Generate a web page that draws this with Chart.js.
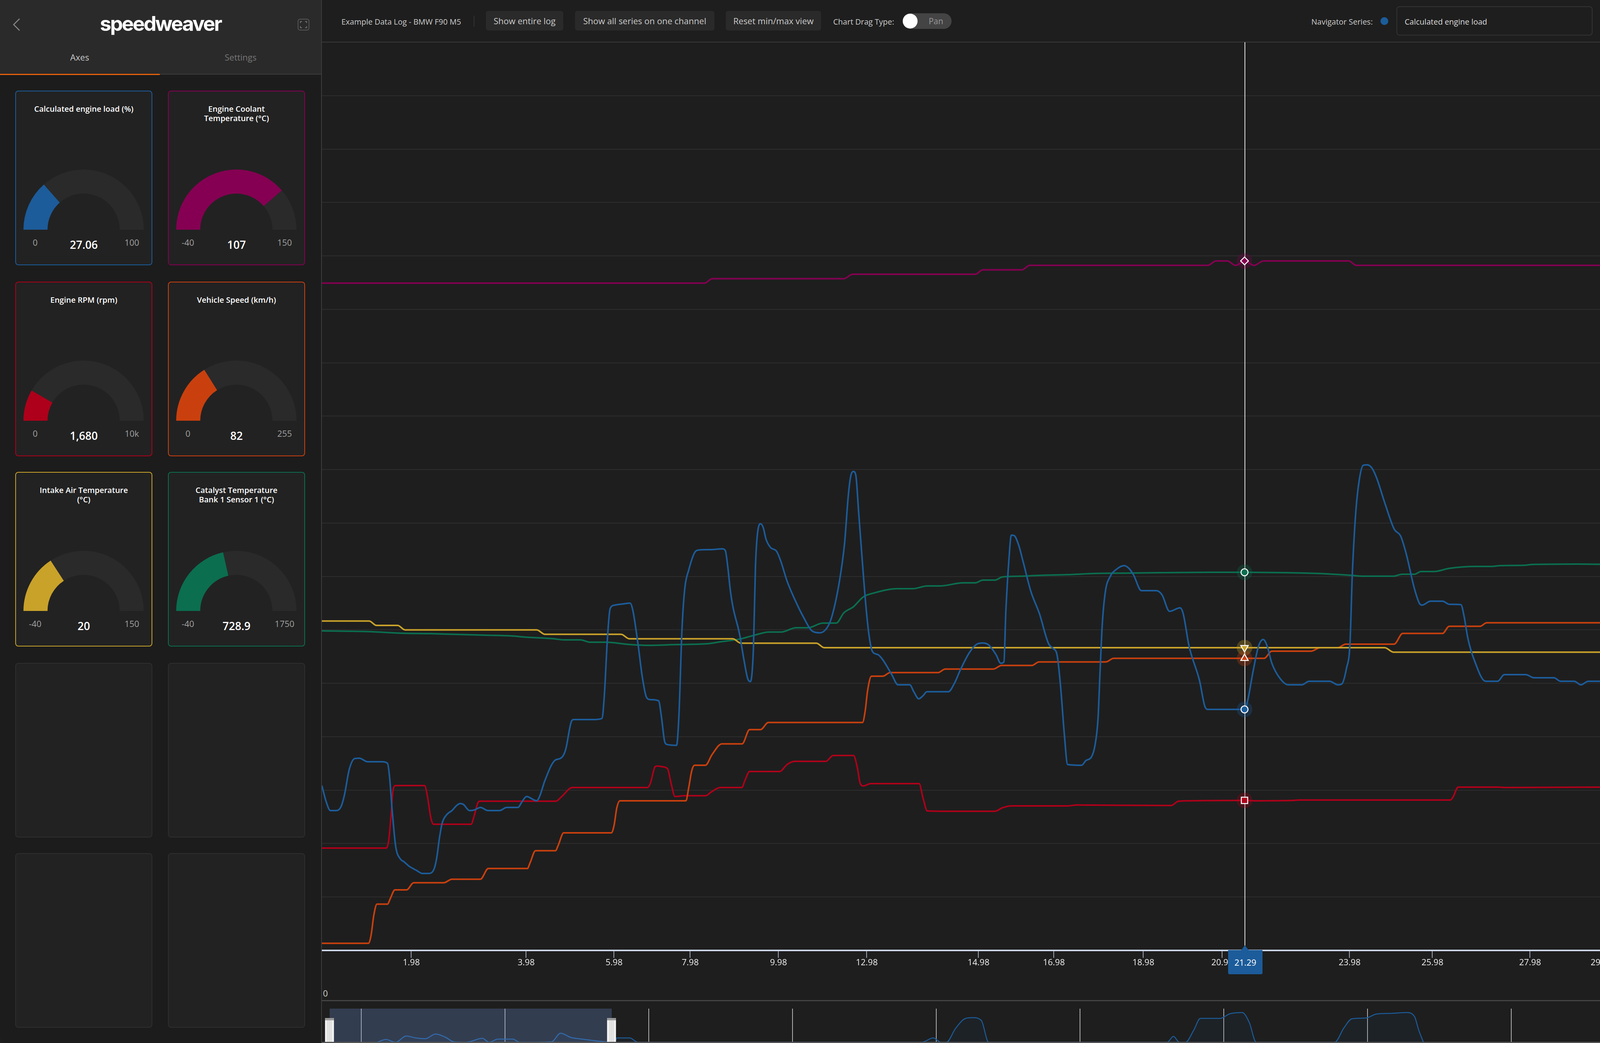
<!DOCTYPE html>
<html lang="en">

<head>
    <meta charset="UTF-8">
    <title>speedweaver</title>
    <style>
        * { margin: 0; padding: 0; box-sizing: border-box; }
        html, body { width: 4128px; height: 2670px; overflow: hidden; background: #1e1e1e; font-family: "Open Sans", sans-serif; color: #ccc; }
        .abs { position: absolute; white-space: nowrap; }
        canvas { position: absolute; display: block; }
        .center { transform: translate(-50%, -50%); }
        .midy { transform: translateY(-50%); }
        #sidebar { position: absolute; left: 0; top: 0; width: 822px; height: 2670px; background: #1c1c1c; border-bottom-left-radius: 20px; }
        #sidehead { position: absolute; left: 0; top: 0; width: 822px; height: 190px; background: #2a2a2a; }
        #divider { position: absolute; left: 822px; top: 0; width: 2px; height: 2670px; background: #3c3c3c; }
        .card { position: absolute; width: 351px; height: 447px; background: #222; border: 2.5px solid #2e2e2e; border-radius: 8px; }
        .card .title { position: absolute; left: 0; right: 0; top: 33px; text-align: center; font-size: 20px; line-height: 24px; color: #fff; font-weight: 600; }
        .card .val { position: absolute; left: 0; right: 0; top: 392px; text-align: center; font-size: 28px; line-height: 0; color: #fff; font-weight: 600; }
        .card .lim { position: absolute; top: 386px; font-size: 22px; line-height: 0; color: #a0a0a0; transform: translateX(-50%); }
        .btn { position: absolute; top: 28px; height: 50px; background: #2a2a2a; border-radius: 6px; font-size: 22px; line-height: 50px; text-align: center; color: #ccc; }
        .handle { position: absolute; top: 2606px; width: 23px; height: 64px; border-top: 6px solid #999; background: linear-gradient(90deg, #eee 0 7px, #bbb 7px 8px, #eee 8px 11px, #bbb 11px 12px, #eee 12px 15px, #bbb 15px 16px, #eee 16px); }
    </style>
    <script src="https://cdn.jsdelivr.net/npm/chart.js"></script>
</head>

<body>
    <div id="sidebar"></div>
    <div id="sidehead"></div>
    <div class="abs center" style="left:411px;top:60px;font-family:Inter,sans-serif;font-weight:700;font-size:52px;letter-spacing:-3px;color:#fff;">speedweaver</div>
    <svg class="abs" style="left:30px;top:44px" width="26" height="38"><path d="M20 4 L5 19 L20 34" fill="none" stroke="#888" stroke-width="2.5" /></svg>
    <svg class="abs" style="left:762px;top:48px" width="30" height="30">
        <rect x="1" y="1" width="28" height="28" rx="5" fill="none" stroke="#666" stroke-width="1.5" />
        <path d="M7 11V7H11 M19 7H23V11 M23 19V23H19 M11 23H7V19" fill="none" stroke="#888" stroke-width="1.5" />
    </svg>
    <div class="abs center" style="left:204px;top:146px;font-size:22px;color:#ccc;">Axes</div>
    <div class="abs center" style="left:616px;top:146px;font-size:22px;color:#777;">Settings</div>
    <div class="abs" style="left:0;top:189px;width:822px;height:2px;background:#3c3c3c;"></div>
    <div class="abs" style="left:0;top:189px;width:409px;height:3px;background:#e8620a;"></div>
    <div id="cards"></div>
    <div id="divider"></div>

    <div class="abs midy" style="left:874px;top:55px;font-size:20px;">Example Data Log - BMW F90 M5</div>
    <div class="abs" style="left:1213px;top:40px;width:1px;height:28px;background:#444;"></div>
    <div class="btn" style="left:1244px;width:198px;">Show entire log</div>
    <div class="btn" style="left:1472px;width:357px;">Show all series on one channel</div>
    <div class="btn" style="left:1858px;width:244px;">Reset min/max view</div>
    <div class="abs midy" style="left:2133px;top:55px;font-size:20px;">Chart Drag Type:</div>
    <div class="abs" style="left:2311px;top:34px;width:125px;height:40px;background:#444;border-radius:20px;"></div>
    <div class="abs" style="left:2311px;top:35px;width:38px;height:38px;background:#fff;border-radius:50%;"></div>
    <div class="abs center" style="left:2396px;top:54px;font-size:21px;color:#999;">Pan</div>
    <div class="abs midy" style="left:3357px;top:55px;font-size:20px;">Navigator Series:</div>
    <div class="abs" style="left:3534px;top:44px;width:20px;height:20px;background:#1c5c9a;border-radius:50%;"></div>
    <div class="abs" style="left:3575px;top:16px;width:502px;height:75px;border:2px solid #333;border-radius:8px;"></div>
    <div class="abs midy" style="left:3596px;top:55px;font-size:20px;color:#ddd;">Calculated engine load</div>
    <div class="abs" style="left:824px;top:107px;width:3304px;height:2px;background:#444;"></div>

    <canvas id="mainChart" style="left:824px;top:108px;" width="3304" height="2392"></canvas>

    <div class="abs" style="left:3176px;top:2420px;width:22px;height:14px;background:#1c5c9a;clip-path:polygon(50% 0,100% 100%,0 100%);"></div>
    <div class="abs" style="left:3144px;top:2432px;width:88px;height:62px;background:#1c5c9a;border-radius:0 0 4px 4px;"></div>
    <div class="abs center" id="cursorLabel" style="left:3188px;top:2463px;font-size:22px;color:#fff;"></div>

    <div class="abs center" style="left:833px;top:2542px;font-size:22px;color:#ccc;">0</div>
    <div class="abs" style="left:824px;top:2560px;width:3304px;height:3px;background:#444;"></div>

    <canvas id="navChart" style="left:824px;top:2582px;" width="3304" height="86"></canvas>
    <div class="abs" style="left:844px;top:2582px;width:722px;height:86px;background:rgba(114,154,230,0.25);"></div>
    <div class="handle" style="left:832px;"></div>
    <div class="handle" style="left:1554px;"></div>
    <div class="abs" style="left:824px;top:2667px;width:3304px;height:3px;background:#555;"></div>

    <script>
        // x is the sample position along the log view (the time axis is not uniform), y is in each channel's units
        const xTickPos = [57.25, 130.75, 187, 235.75, 292.25, 348.75, 420.25, 468.5, 525.75, 576.25, 657.75, 710.75, 773.25, 819];
        const xTickLabels = ['1.98', '3.98', '5.98', '7.98', '9.98', '12.98', '14.98', '16.98', '18.98', '20.98', '23.98', '25.98', '27.98', '29.98'];
        const cursorX = 590.5;
        const cursorLabel = '21.29';

        const loadX = [0, 2.5, 5.5, 8.75, 12.25, 14.5, 17.5, 21, 24, 29.25, 38.5, 42, 43.25, 45, 47.25, 50.25, 52.5, 56, 60.5, 64.25, 68.25, 71.75, 73.5, 75.25, 77, 80, 83.25, 86.25, 88.5, 90.5, 94.5, 97.25, 101.5, 106.25, 113.75, 118.25, 125.5, 128, 131, 137.5, 139.25, 142.75, 149, 153.25, 156, 159.5, 161.25, 174.5, 179.25, 180.75, 182.75, 184.5, 187.5, 192.75, 197.25, 199, 202.5, 205, 207.75, 210.25, 215.5, 217.25, 219.5, 221.25, 227, 228.5, 230.5, 232.25, 234.75, 239, 241.5, 249, 256.5, 258.25, 259.75, 261.5, 263, 267.25, 270, 272.5, 274.25, 276.25, 277.5, 279.5, 280.75, 282.5, 284.25, 287.25, 291, 293.75, 297.75, 302.5, 308.25, 314, 318.75, 323.5, 326.5, 331.25, 334.5, 337, 338.75, 340.25, 341.75, 343.5, 346.5, 348.5, 350.25, 352.25, 356, 359, 364.75, 368.75, 376.25, 379, 382, 384.75, 387.25, 401, 404.75, 408.75, 414.5, 419.25, 423, 426.75, 431.5, 434.5, 436.5, 437.75, 439.75, 441.25, 443, 446, 448.75, 453.75, 459.25, 465, 468, 470.5, 472.75, 475.25, 477.25, 486.25, 489, 492.5, 494.75, 496.75, 498, 499.5, 501.5, 504.25, 509, 513.5, 516.75, 519.5, 524.5, 534, 537.75, 542.5, 549.25, 551.25, 555, 561.75, 565, 566.75, 590.5, 592.5, 596, 599.5, 602.5, 605, 608, 613.25, 618.5, 627.25, 631.75, 645, 650.25, 652.75, 655.75, 658, 659.5, 661.75, 664, 666.5, 669, 672, 675, 680.25, 686.25, 690.5, 694, 699.25, 702.5, 704.25, 709.5, 717.25, 721.5, 729, 731, 733.5, 737.75, 744.75, 752.5, 756.75, 770.5, 775.75, 788.5, 792.75, 801.5, 805.75, 810.5, 823.75, 826];
        const loadY = [18.51, 16.84, 15.7, 15.7, 16.14, 17.5, 20.31, 21.54, 21.58, 21.18, 21.18, 21.01, 19.61, 15.7, 11.67, 10.26, 9.96, 9.43, 8.99, 8.64, 8.64, 9.12, 10.39, 12.63, 14.3, 15.26, 15.7, 16.27, 16.49, 16.4, 15.7, 15.75, 16.05, 15.7, 15.7, 16.05, 16.05, 16.67, 17.28, 16.8, 17.24, 19.08, 21.32, 21.62, 22.54, 25.61, 25.92, 25.92, 26.05, 28.55, 35, 38.38, 38.77, 38.9, 38.99, 38.2, 34.17, 30.79, 28.42, 28.16, 28.03, 26.32, 23.38, 23.11, 23.03, 26.32, 36.14, 40.61, 42.68, 44.78, 44.96, 45, 45.09, 44.87, 43.11, 40.31, 38.64, 35.57, 32.76, 30.53, 30.18, 34.17, 43.11, 47.59, 47.89, 47.46, 46.18, 45.22, 44.82, 43.68, 41.45, 39.47, 37.41, 35.83, 35.66, 36.27, 37.54, 41.45, 45.66, 51.23, 53.46, 53.77, 53.33, 49.3, 42.28, 38.07, 35.31, 33.6, 33.2, 32.63, 30.96, 29.82, 29.82, 28.99, 28.25, 28.6, 29.04, 29.04, 29.96, 31.54, 33.46, 34.39, 34.52, 34.3, 33.2, 32.24, 32.37, 38.07, 43.95, 46.62, 46.58, 45.48, 43.68, 40.31, 37.81, 34.47, 33.9, 33.2, 29.69, 24.12, 20.88, 20.79, 21.32, 21.71, 22.98, 26.05, 31.1, 36.71, 40.35, 41.89, 42.85, 43.2, 42.85, 42.15, 40.39, 40.39, 39.91, 38.07, 38.46, 37.81, 34.17, 30.26, 27.46, 27.06, 27.06, 28.03, 31.36, 34.17, 34.91, 34.17, 32.24, 30.53, 29.82, 29.82, 30.22, 30.22, 29.82, 29.91, 31.67, 34.47, 42.28, 49.3, 52.89, 54.47, 54.52, 54.17, 53.07, 50.26, 47.32, 46.49, 44.52, 40.61, 38.95, 38.77, 39.21, 39.21, 38.86, 38.82, 37.54, 35, 32.5, 30.22, 30.22, 30.96, 30.96, 30.61, 30.61, 30.22, 30.22, 29.82, 30.22, 30.22, 31.67];

        const rpmX = [0, 41, 42.75, 44.25, 45.5, 47.25, 65.75, 67.5, 69.75, 71.5, 95.5, 97.5, 99.75, 101, 149.75, 153.25, 160.25, 208.5, 210.25, 213.25, 214.75, 218.25, 221.25, 223.5, 226, 232.25, 245.5, 249, 255, 268.75, 270.75, 273.75, 293, 297.75, 302.5, 322.5, 327.25, 340.25, 342.75, 344.5, 346.5, 351.25, 382.25, 384.75, 387.5, 410.5, 430.75, 435.5, 441.25, 477.5, 483.25, 543.5, 548.25, 556, 590.5, 597.75, 621.75, 625.25, 722.25, 724, 727.25, 753.25, 757.5, 826];
        const rpmY = [1146, 1146, 1229, 1509, 1789, 1846, 1846, 1732, 1483, 1413, 1413, 1509, 1649, 1671, 1671, 1719, 1824, 1824, 1872, 2056, 2065, 2056, 2034, 1872, 1724, 1732, 1732, 1772, 1824, 1824, 1903, 2004, 2004, 2082, 2117, 2117, 2183, 2183, 2043, 1872, 1842, 1868, 1868, 1706, 1562, 1558, 1558, 1597, 1619, 1619, 1628, 1623, 1671, 1676, 1680, 1676, 1680, 1684, 1684, 1719, 1829, 1829, 1824, 1829];

        const speedX = [0, 29.75, 31.5, 33.25, 35.25, 42, 43.75, 46.75, 54.25, 58.75, 78, 83.25, 101.5, 106.5, 131.5, 133.25, 136.75, 149.5, 151.25, 154.75, 185.25, 187, 188.75, 190.75, 233, 234.75, 236.75, 238.5, 245.5, 249.75, 256, 269, 273.75, 280.75, 285.75, 346, 347.75, 349.25, 351.75, 359, 363.75, 394.25, 399, 429.75, 435, 454.25, 459, 501.75, 506.75, 603, 608, 633, 639, 650.25, 655.25, 686.25, 691.75, 717.25, 721.5, 741.25, 745.5, 826];
        const speedY = [2, 2, 4.3, 9.9, 13, 13, 14.5, 17, 17, 19, 19, 20, 20, 23, 23, 24.6, 28, 28, 29.5, 33, 33, 35.1, 40, 42, 42, 45.6, 50.5, 52, 52, 55, 58, 58, 62, 62, 64, 64, 67.3, 72.9, 77, 77, 78, 78, 79, 79, 80, 80, 81, 81, 82, 82, 84, 84, 85, 85, 86, 86, 89, 89, 91, 91, 92, 92];

        const intakeX = [0, 30.25, 35, 48.5, 53.25, 137.5, 142.75, 191.5, 196.75, 263, 268.25, 316.5, 321.5, 680.25, 685.75, 826];
        const intakeY = [26, 26, 25, 25, 24, 24, 23, 23, 22, 22, 21, 21, 20, 20, 19, 19];

        const coolantX = [0, 245, 249.75, 334, 339.75, 418.25, 423, 448, 453, 567, 572.25, 579.5, 584.75, 590.75, 596.5, 602.75, 657.25, 662, 826];
        const coolantY = [102, 102, 103, 103, 104, 104, 105, 105, 106, 106, 107, 107, 106, 107, 106, 107, 107, 106, 106];

        const catalystX = [0, 30.5, 51.5, 69.25, 86.75, 104.25, 121.75, 130.5, 148, 155, 165.5, 171.75, 181.5, 197.25, 209.5, 227, 246.25, 255, 267.25, 274, 276.75, 286.25, 293.75, 303.5, 311, 320.75, 329.25, 334, 340.25, 346.5, 353.25, 368.5, 378, 387.5, 395.25, 410.5, 418.25, 423, 430.75, 435.5, 447, 458.5, 477.5, 483.25, 494.75, 517.75, 536.75, 569, 590.5, 616.75, 637.25, 659.5, 666.5, 685.5, 691.5, 699.25, 703.5, 712, 721.5, 738.75, 748.25, 754.25, 769.75, 774.75, 804, 826];
        const catalystY = [604.7, 603.1, 599.8, 598.9, 597.3, 595.6, 594, 591.5, 588.2, 585.7, 585.7, 580.7, 580.7, 575.8, 574.1, 575.8, 577.4, 581.6, 587.3, 593.1, 595.6, 602.2, 602.2, 611.3, 611.3, 621.3, 621.3, 642.8, 656, 676.7, 685, 694.1, 694.1, 699.9, 699.9, 706.5, 706.5, 712.3, 712.3, 719, 720.6, 722.3, 723.9, 724.8, 726.4, 727.2, 728.1, 728.9, 728.9, 728.1, 726.4, 722.3, 720.6, 720.6, 724.8, 724.8, 730.6, 730.6, 737.2, 741.3, 741.3, 743, 743.8, 745.5, 746.3, 745.5];

        // navigator: whole log, only the tops of the load curve show above the window edge
        const navX = [35.5, 41, 47.25, 54, 60, 66.25, 72.75, 79, 84.5, 92.5, 102.75, 107, 112.75, 122.25, 126.5, 129.25, 147, 152.75, 159.5, 164.5, 187.5, 188.75, 197, 202.25, 359.5, 384, 391.25, 396.25, 399.75, 405.5, 412, 416.5, 422, 426.75, 441, 541, 545, 548.75, 552.75, 558, 562.25, 574.75, 581.25, 589, 593.5, 598, 648.25, 654, 659.25, 668.25, 674.75, 685, 694.25, 699.25, 702, 705];
        const navY = [0, 8, 0, 18.6, 12.8, 10.5, 24.4, 15.1, 1.2, 0, 11.6, 0, 9.3, 9.3, 0, 0, 1.2, 26.7, 14, 10.5, 0, 12.8, 12.8, 0, 0, 0, 12.8, 0, 0, 40.7, 70.9, 73.3, 65.1, 0, 0, 0, 17.4, 0, 0, 36, 70.9, 70.9, 84.9, 88.4, 59.3, 0, 0, 41.9, 69.8, 72.1, 83.7, 86, 88.4, 76.7, 36, 0];
        const navTickPos = [25.25, 117.25, 209.25, 301.25, 393.25, 485.25, 577.25, 669.25, 761.25];

        const seriesNames = ['Calculated engine load', 'Engine Coolant Temperature', 'Engine RPM', 'Vehicle Speed', 'Intake Air Temperature', 'Catalyst Temperature Bank 1 Sensor 1'];
        const seriesColors = ['#1c5c9a', '#850052', '#ae001a', '#c9400e', '#c9a22a', '#0b6e4f'];

        const gaugeTitles = [['Calculated engine load (%)'], ['Engine Coolant', 'Temperature (°C)'], ['Engine RPM (rpm)'], ['Vehicle Speed (km/h)'], ['Intake Air Temperature', '(°C)'], ['Catalyst Temperature', 'Bank 1 Sensor 1 (°C)']];
        const gaugeValues = [27.06, 107, 1680, 82, 20, 728.9];
        const gaugeMins = [0, -40, 0, 0, -40, -40];
        const gaugeMaxs = [100, 150, 10000, 255, 150, 1750];
        const gaugeValueLabels = ['27.06', '107', '1,680', '82', '20', '728.9'];
        const gaugeMaxLabels = ['100', '150', '10k', '255', '150', '1750'];

        function pts(xs, ys) {
            return xs.map((x, i) => ({ x: x, y: ys[i] }));
        }

        function hexAlpha(hex, a) {
            const n = parseInt(hex.slice(1), 16);
            return `rgba(${n >> 16},${(n >> 8) & 255},${n & 255},${a})`;
        }

        const cardLeft = [39, 430];
        const cardTop = [232, 721, 1208, 1697, 2184];
        const cards = document.getElementById('cards');

        function buildCards() {
            let k = 0;
            cardTop.forEach(top => {
                cardLeft.forEach(left => {
                    const card = document.createElement('div');
                    card.className = 'card';
                    card.style.left = left + 'px';
                    card.style.top = top + 'px';
                    cards.appendChild(card);
                    if (k < gaugeValues.length) fillGauge(card, k);
                    k++;
                });
            });
        }

        function fillGauge(card, i) {
            card.style.borderColor = seriesColors[i];
            const title = document.createElement('div');
            title.className = 'title';
            title.innerHTML = gaugeTitles[i].join('<br>');
            card.appendChild(title);

            const cv = document.createElement('canvas');
            cv.width = 308;
            cv.height = 154;
            cv.style.left = '18.5px';
            cv.style.top = '199.5px';
            card.appendChild(cv);

            [[gaugeMins[i], 49], [gaugeMaxLabels[i], 296.5]].forEach(item => {
                const lim = document.createElement('div');
                lim.className = 'lim';
                lim.style.left = item[1] + 'px';
                lim.textContent = item[0];
                card.appendChild(lim);
            });

            const val = document.createElement('div');
            val.className = 'val';
            val.textContent = gaugeValueLabels[i];
            card.appendChild(val);

            new Chart(cv, {
                type: 'doughnut',
                data: {
                    datasets: [{
                        data: [gaugeValues[i] - gaugeMins[i], gaugeMaxs[i] - gaugeValues[i]],
                        backgroundColor: [seriesColors[i], '#2a2a2a'],
                        borderWidth: 0
                    }]
                },
                options: {
                    responsive: false,
                    maintainAspectRatio: false,
                    animation: false,
                    events: [],
                    rotation: -90,
                    circumference: 180,
                    cutout: '60%',
                    plugins: { legend: { display: false }, tooltip: { enabled: false } }
                }
            });
        }

        function lineSet(i, data, axis) {
            return {
                label: seriesNames[i],
                data: data,
                yAxisID: axis,
                borderColor: seriesColors[i],
                borderWidth: 4,
                cubicInterpolationMode: 'monotone',
                pointRadius: 0
            };
        }

        const seriesAxes = ['yLoad', 'yTemp', 'yRpm', 'ySpeed', 'yTemp', 'yCat'];
        const markerStyles = ['circle', 'rectRot', 'rect', 'triangle', 'triangle', 'circle'];
        const markerRadius = [9, 10, 11.5, 11, 11, 9];
        const markerRotation = [0, 0, 0, 0, 180, 0];

        function markerSets() {
            const front = [];
            const halos = [];
            gaugeValues.forEach((v, i) => {
                const p = [{ x: cursorX, y: v }];
                front.push({
                    data: p,
                    yAxisID: seriesAxes[i],
                    showLine: false,
                    pointStyle: markerStyles[i],
                    pointRotation: markerRotation[i],
                    pointRadius: markerRadius[i],
                    pointBackgroundColor: seriesColors[i],
                    pointBorderColor: '#fff',
                    pointBorderWidth: 2.5
                });
                halos.push({
                    data: p,
                    yAxisID: seriesAxes[i],
                    showLine: false,
                    pointRadius: 20,
                    pointBackgroundColor: hexAlpha(seriesColors[i], 0.3),
                    pointBorderWidth: 0
                });
            });
            return front.concat(halos);
        }

        function plotMain() {
            const cursorLine = {
                data: [{ x: 590.75, y: 0 }, { x: 590.75, y: 255 }],
                yAxisID: 'ySpeed',
                borderColor: '#e4e4e4',
                borderWidth: 2,
                pointRadius: 0
            };
            new Chart(document.getElementById('mainChart'), {
                type: 'line',
                data: {
                    datasets: markerSets().concat([cursorLine,
                        lineSet(0, pts(loadX, loadY), 'yLoad'),
                        lineSet(4, pts(intakeX, intakeY), 'yTemp'),
                        lineSet(3, pts(speedX, speedY), 'ySpeed'),
                        lineSet(5, pts(catalystX, catalystY), 'yCat'),
                        lineSet(2, pts(rpmX, rpmY), 'yRpm'),
                        lineSet(1, pts(coolantX, coolantY), 'yTemp')
                    ])
                },
                options: {
                    responsive: false,
                    maintainAspectRatio: false,
                    animation: false,
                    events: [],
                    layout: { padding: 0, autoPadding: false },
                    plugins: { legend: { display: false }, tooltip: { enabled: false } },
                    scales: {
                        x: {
                            type: 'linear',
                            min: 0,
                            max: 826,
                            afterBuildTicks: s => { s.ticks = xTickPos.map(v => ({ value: v })); },
                            afterFit: s => { s.height = 67; },
                            border: { color: '#ccd6eb', width: 4 },
                            grid: { drawOnChartArea: false, tickLength: 19, tickColor: '#ccd6eb', tickWidth: 1.5 },
                            ticks: {
                                autoSkip: false,
                                maxRotation: 0,
                                padding: 0,
                                color: '#eee',
                                font: { family: '"Open Sans"', size: 22 },
                                callback: (v, i) => xTickLabels[i]
                            }
                        },
                        ySpeed: {
                            min: 0,
                            max: 255,
                            afterBuildTicks: s => { s.ticks = Array.from({ length: 18 }, (_, k) => ({ value: k * 15 })); },
                            afterFit: s => { s.width = 0; },
                            border: { display: false },
                            grid: { color: '#2d2d2d', lineWidth: 2, drawTicks: false },
                            ticks: { display: false }
                        },
                        yLoad: { display: false, min: 0, max: 101.97 },
                        yRpm: { display: false, min: 0, max: 10171 },
                        yTemp: { display: false, min: -48.1, max: 156.2 },
                        yCat: { display: false, min: -72.4, max: 1852.3 }
                    }
                }
            });
            document.getElementById('cursorLabel').textContent = cursorLabel;
        }

        function plotNavigator() {
            new Chart(document.getElementById('navChart'), {
                type: 'line',
                data: {
                    datasets: [{
                        data: pts(navX, navY),
                        borderColor: '#1c5c9a',
                        borderWidth: 2.5,
                        backgroundColor: 'rgba(28,92,154,0.08)',
                        fill: 'origin',
                        cubicInterpolationMode: 'monotone',
                        pointRadius: 0
                    }]
                },
                options: {
                    responsive: false,
                    maintainAspectRatio: false,
                    animation: false,
                    events: [],
                    layout: { padding: 0, autoPadding: false },
                    plugins: { legend: { display: false }, tooltip: { enabled: false } },
                    scales: {
                        x: {
                            type: 'linear',
                            min: 0,
                            max: 826,
                            afterBuildTicks: s => { s.ticks = navTickPos.map(v => ({ value: v })); },
                            afterFit: s => { s.height = 0; },
                            border: { display: false },
                            grid: { color: '#ddd', lineWidth: 1.5, drawTicks: false },
                            ticks: { display: false }
                        },
                        y: { display: false, min: 0, max: 100 }
                    }
                }
            });
        }

        buildCards();
        plotMain();
        plotNavigator();
    </script>
</body>

</html>
